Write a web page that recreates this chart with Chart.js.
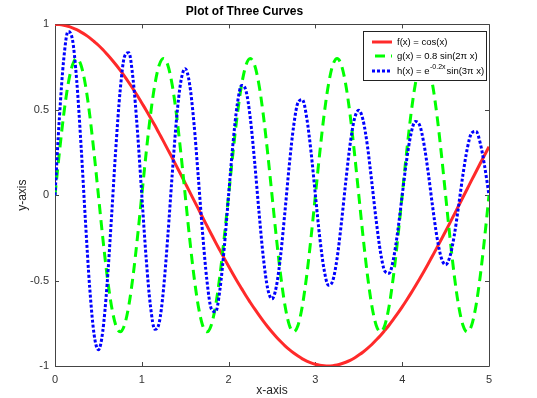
<!DOCTYPE html>
<html>
<head>
<meta charset="utf-8">
<script src="https://cdn.jsdelivr.net/npm/chart.js@4.4.1/dist/chart.umd.min.js"></script>
<style>
    html, body { margin: 0; padding: 0; background: #fff; }
</style>
</head>
<body>
<canvas id="curves-chart" width="537" height="398"></canvas>
<script>
// Sample points (x step 0.05)
const xValues = [0,0.05,0.1,0.15,0.2,0.25,0.3,0.35,0.4,0.45,0.5,0.55,0.6,0.65,0.7,0.75,0.8,0.85,0.9,0.95,
    1,1.05,1.1,1.15,1.2,1.25,1.3,1.35,1.4,1.45,1.5,1.55,1.6,1.65,1.7,1.75,1.8,1.85,1.9,1.95,
    2,2.05,2.1,2.15,2.2,2.25,2.3,2.35,2.4,2.45,2.5,2.55,2.6,2.65,2.7,2.75,2.8,2.85,2.9,2.95,
    3,3.05,3.1,3.15,3.2,3.25,3.3,3.35,3.4,3.45,3.5,3.55,3.6,3.65,3.7,3.75,3.8,3.85,3.9,3.95,
    4,4.05,4.1,4.15,4.2,4.25,4.3,4.35,4.4,4.45,4.5,4.55,4.6,4.65,4.7,4.75,4.8,4.85,4.9,4.95,5];

const cosValues = [1,0.999,0.995,0.989,0.98,0.969,0.955,0.939,0.921,0.9,0.878,0.853,0.825,0.796,0.765,0.732,0.697,0.66,0.622,0.582,
    0.54,0.498,0.454,0.409,0.362,0.315,0.267,0.219,0.17,0.121,0.071,0.021,-0.029,-0.079,-0.129,-0.178,-0.227,-0.276,-0.323,-0.37,
    -0.416,-0.461,-0.505,-0.547,-0.589,-0.628,-0.666,-0.702,-0.737,-0.77,-0.801,-0.83,-0.857,-0.882,-0.904,-0.924,-0.942,-0.958,-0.971,-0.982,
    -0.99,-0.996,-0.999,-1,-0.998,-0.994,-0.987,-0.978,-0.967,-0.953,-0.936,-0.918,-0.897,-0.874,-0.848,-0.821,-0.791,-0.76,-0.726,-0.691,
    -0.654,-0.615,-0.575,-0.533,-0.49,-0.446,-0.401,-0.355,-0.307,-0.259,-0.211,-0.162,-0.112,-0.062,-0.012,0.038,0.088,0.137,0.187,0.235,0.284];

const sineValues = [0,0.247,0.47,0.647,0.761,0.8,0.761,0.647,0.47,0.247,0,-0.247,-0.47,-0.647,-0.761,-0.8,-0.761,-0.647,-0.47,-0.247,
    0,0.247,0.47,0.647,0.761,0.8,0.761,0.647,0.47,0.247,0,-0.247,-0.47,-0.647,-0.761,-0.8,-0.761,-0.647,-0.47,-0.247,
    0,0.247,0.47,0.647,0.761,0.8,0.761,0.647,0.47,0.247,0,-0.247,-0.47,-0.647,-0.761,-0.8,-0.761,-0.647,-0.47,-0.247,
    0,0.247,0.47,0.647,0.761,0.8,0.761,0.647,0.47,0.247,0,-0.247,-0.47,-0.647,-0.761,-0.8,-0.761,-0.647,-0.47,-0.247,
    0,0.247,0.47,0.647,0.761,0.8,0.761,0.647,0.47,0.247,0,-0.247,-0.47,-0.647,-0.761,-0.8,-0.761,-0.647,-0.47,-0.247,0];

const dampedValues = [0,0.449,0.793,0.958,0.914,0.672,0.291,-0.145,-0.543,-0.814,-0.905,-0.798,-0.522,-0.137,0.269,0.609,0.81,0.834,0.676,0.375,
    0,-0.368,-0.65,-0.785,-0.748,-0.551,-0.238,0.119,0.445,0.666,0.741,0.653,0.427,0.112,-0.22,-0.498,-0.664,-0.683,-0.553,-0.307,
    0,0.301,0.532,0.643,0.612,0.451,0.195,-0.098,-0.364,-0.546,-0.607,-0.535,-0.35,-0.092,0.18,0.408,0.543,0.559,0.453,0.252,
    0,-0.247,-0.435,-0.527,-0.501,-0.369,-0.16,0.08,0.298,0.447,0.497,0.438,0.286,0.075,-0.147,-0.334,-0.445,-0.457,-0.371,-0.206,
    0,0.202,0.356,0.431,0.411,0.302,0.131,-0.065,-0.244,-0.366,-0.407,-0.359,-0.235,-0.062,0.121,0.274,0.364,0.374,0.303,0.169,0];

const xTicks = [0, 1, 2, 3, 4, 5];
const yTicks = [-1, -0.5, 0, 0.5, 1];

const seriesNames = ['f(x) = cos(x)', 'g(x) = 0.8 sin(2\u03c0 x)', 'h(x) = e'];
const seriesColors = ['#ff2a2a', '#00ff00', '#0000ff'];

const FONT = '"Liberation Sans", Arial, sans-serif';

function toPoints(ys) {
    return xValues.map((x, i) => ({ x: x, y: ys[i] }));
}

// Box with inward ticks on all four sides
const framePlugin = {
    id: 'frame',
    beforeDatasetsDraw(chart) {
        const { ctx, chartArea: a, scales } = chart;
        ctx.save();
        ctx.strokeStyle = '#444';
        ctx.lineWidth = 1;
        ctx.beginPath();
        ctx.rect(Math.round(a.left) + 0.5, Math.round(a.top) + 0.5,
            Math.round(a.right - a.left), Math.round(a.bottom - a.top));
        xTicks.forEach(v => {
            const px = Math.round(scales.x.getPixelForValue(v)) + 0.5;
            ctx.moveTo(px, a.bottom); ctx.lineTo(px, a.bottom - 4);
            ctx.moveTo(px, a.top); ctx.lineTo(px, a.top + 4);
        });
        yTicks.forEach(v => {
            const py = Math.round(scales.y.getPixelForValue(v)) + 0.5;
            ctx.moveTo(a.left, py); ctx.lineTo(a.left + 4, py);
            ctx.moveTo(a.right, py); ctx.lineTo(a.right - 4, py);
        });
        ctx.stroke();
        ctx.restore();
    }
};

// Boxed legend in the upper right, with a superscript in the last entry
const legendPlugin = {
    id: 'boxLegend',
    afterDatasetsDraw(chart) {
        const { ctx, chartArea: a } = chart;
        const right = Math.round(a.right) - 3;
        const left = right - 123;
        const top = Math.round(a.top) + 7;
        const bottom = top + 49;
        ctx.save();
        ctx.fillStyle = '#fff';
        ctx.fillRect(left, top, right - left, bottom - top);
        ctx.strokeStyle = '#222';
        ctx.lineWidth = 1;
        ctx.strokeRect(left + 0.5, top + 0.5, right - left, bottom - top);

        const rows = [top + 11, top + 25, top + 40];
        const dashes = [[], [10, 6], [3, 2]];
        const offsets = [0, -3, 0];
        rows.forEach((y, i) => {
            ctx.beginPath();
            ctx.strokeStyle = seriesColors[i];
            ctx.lineWidth = 3;
            ctx.setLineDash(dashes[i]);
            ctx.lineDashOffset = offsets[i];
            ctx.moveTo(left + 9, y);
            ctx.lineTo(left + 29, y);
            ctx.stroke();
        });
        ctx.setLineDash([]);

        ctx.fillStyle = '#000';
        ctx.textBaseline = 'middle';
        ctx.font = '9.5px ' + FONT;
        const tx = left + 34;
        ctx.fillText(seriesNames[0], tx, rows[0]);
        ctx.fillText(seriesNames[1], tx, rows[1]);
        ctx.fillText(seriesNames[2], tx, rows[2]);
        let w = ctx.measureText(seriesNames[2]).width;
        ctx.font = '7px ' + FONT;
        ctx.fillText('-0.2x', tx + w + 0.5, rows[2] - 4);
        w += ctx.measureText('-0.2x').width + 1.5;
        ctx.font = '9.5px ' + FONT;
        ctx.fillText('sin(3\u03c0 x)', tx + w, rows[2]);
        ctx.restore();
    }
};

const ctx = document.getElementById('curves-chart').getContext('2d');
const curvesChart = new Chart(ctx, {
    type: 'line',
    data: {
        datasets: [
            {
                label: 'f(x) = cos(x)',
                data: toPoints(cosValues),
                borderColor: seriesColors[0],
                borderWidth: 3,
                order: 3
            },
            {
                label: 'g(x) = 0.8 sin(2\u03c0 x)',
                data: toPoints(sineValues),
                borderColor: seriesColors[1],
                borderWidth: 3,
                borderDash: [10, 6],
                order: 2
            },
            {
                label: 'h(x) = e^(-0.2x) sin(3\u03c0 x)',
                data: toPoints(dampedValues),
                borderColor: seriesColors[2],
                borderWidth: 3,
                borderDash: [3, 2],
                order: 1
            }
        ]
    },
    options: {
        responsive: false,
        animation: false,
        elements: {
            point: { radius: 0 },
            line: { cubicInterpolationMode: 'monotone', fill: false }
        },
        layout: { padding: { left: 0, right: 48, top: 0, bottom: 0 } },
        scales: {
            x: {
                type: 'linear',
                min: 0,
                max: 5,
                afterFit(scale) { scale.height = 32; },
                afterBuildTicks(scale) { scale.ticks = xTicks.map(v => ({ value: v })); },
                grid: { display: false, drawTicks: false },
                border: { display: false },
                ticks: {
                    padding: 7,
                    color: '#333',
                    callback: v => String(v),
                    font: { family: FONT, size: 11 }
                },
                title: {
                    display: true,
                    text: 'x-axis',
                    color: '#222',
                    padding: { top: 0, bottom: 0 },
                    font: { family: FONT, size: 12 }
                }
            },
            y: {
                min: -1,
                max: 1,
                afterFit(scale) { scale.width = 55; },
                afterBuildTicks(scale) { scale.ticks = yTicks.map(v => ({ value: v })); },
                grid: { display: false, drawTicks: false },
                border: { display: false },
                ticks: {
                    padding: 6,
                    color: '#333',
                    callback: v => String(v),
                    font: { family: FONT, size: 11 }
                },
                title: {
                    display: true,
                    text: 'y-axis',
                    color: '#222',
                    padding: { top: 15, bottom: 0 },
                    font: { family: FONT, size: 12 }
                }
            }
        },
        plugins: {
            legend: { display: false },
            tooltip: { enabled: false },
            title: {
                display: true,
                text: 'Plot of Three Curves',
                color: '#000',
                padding: { top: 4, bottom: 6 },
                font: { family: FONT, size: 12, weight: 'bold' }
            }
        }
    },
    plugins: [framePlugin, legendPlugin]
});
</script>
</body>
</html>
